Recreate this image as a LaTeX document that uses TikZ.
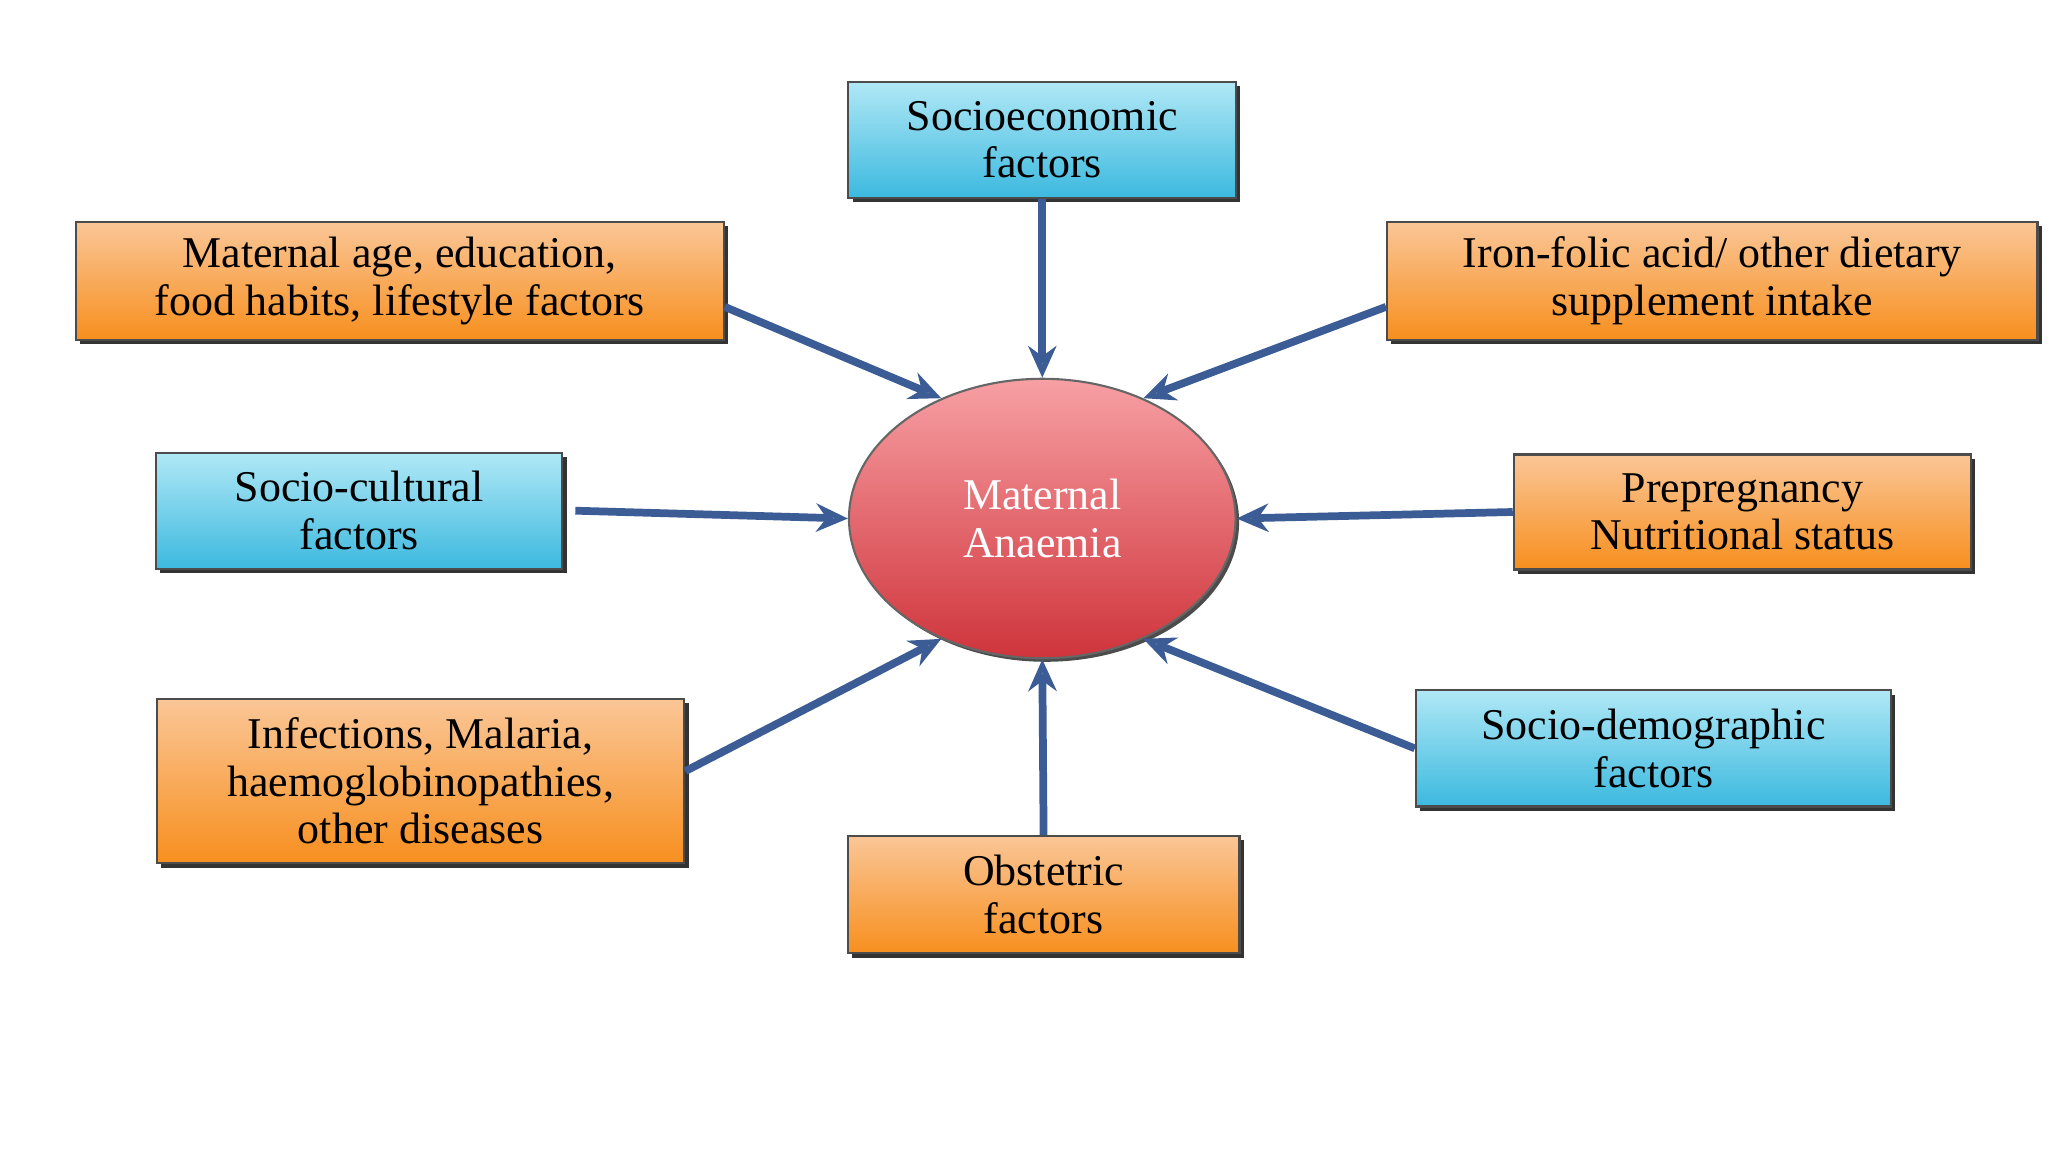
\documentclass[tikz,border=0pt]{standalone}
\usepackage{fontspec}
\setmainfont{Liberation Serif}
\usetikzlibrary{shadows,arrows.meta,shapes.geometric}
\definecolor{ortop}{HTML}{FAC697}
\definecolor{orbot}{HTML}{F78F1E}
\definecolor{bltop}{HTML}{B0E8F6}
\definecolor{blbot}{HTML}{3CB9DF}
\definecolor{rdtop}{HTML}{F7A0A4}
\definecolor{rdbot}{HTML}{CF343B}
\definecolor{arr}{HTML}{3B5C95}
\tikzset{
  box/.style={draw=black!70, line width=0.6pt, align=center, inner sep=0pt,
    font=\fontsize{12.5}{13.5}\selectfont,
    drop shadow={shadow xshift=1.2pt, shadow yshift=-1.2pt, fill=black!80, opacity=1}},
  ob/.style={box, top color=ortop, bottom color=orbot},
  bb/.style={box, top color=bltop, bottom color=blbot},
  con/.style={draw=arr, line width=2.2pt, -{Stealth[length=9pt,width=8pt,open,fill=arr!70]}},
}
\begin{document}
\begin{tikzpicture}[x=0.013061cm,y=-0.013061cm]
\useasboundingbox (0,0) rectangle (1568,882);
\node (m) [ellipse, draw=black!60, line width=0.6pt, top color=rdtop, bottom color=rdbot,
  minimum width=3.866cm, minimum height=2.795cm, text=white, align=center,
  font=\fontsize{12.5}{13.5}\selectfont,
  drop shadow={shadow xshift=1pt, shadow yshift=-1pt, fill=black!70, opacity=1}] at (798,397) {Maternal\\Anaemia};
\node (se) [bb, minimum width=3.879cm, minimum height=1.162cm] at (798,107) {Socioeconomic\\factors};
\node (ma) [ob, minimum width=6.478cm, minimum height=1.175cm] at (306,215) {Maternal age, education,\\food habits, lifestyle factors};
\node (ir) [ob, minimum width=6.504cm, minimum height=1.175cm] at (1311,215) {Iron-folic acid/ other dietary\\supplement intake};
\node (sc) [bb, minimum width=4.062cm, minimum height=1.162cm] at (275,391) {Socio-cultural\\factors};
\node (pp) [ob, minimum width=4.571cm, minimum height=1.149cm] at (1334,392) {Prepregnancy\\Nutritional status};
\node (inf) [ob, minimum width=5.277cm, minimum height=1.646cm] at (322,598) {Infections, Malaria,\\haemoglobinopathies,\\other diseases};
\node (sd) [bb, minimum width=4.754cm, minimum height=1.162cm] at (1266,573) {Socio-demographic\\factors};
\node (ob) [ob, minimum width=3.918cm, minimum height=1.175cm] at (799,685) {Obstetric\\factors};
\draw[con] (se.south) -- (m.north);
\draw[con] ([yshift=-0.26cm]ma.east) -- (m.130);
\draw[con] ([yshift=-0.26cm]ir.west) -- (m.50);
\draw[con] ([xshift=0.12cm]sc.east) -- (m.west);
\draw[con] (pp.west) -- (m.east);
\draw[con] ([yshift=0.1cm]inf.east) -- (m.230);
\draw[con] (sd.west) -- (m.-50);
\draw[con] (ob.north) -- (m.south);
\end{tikzpicture}
\end{document}
